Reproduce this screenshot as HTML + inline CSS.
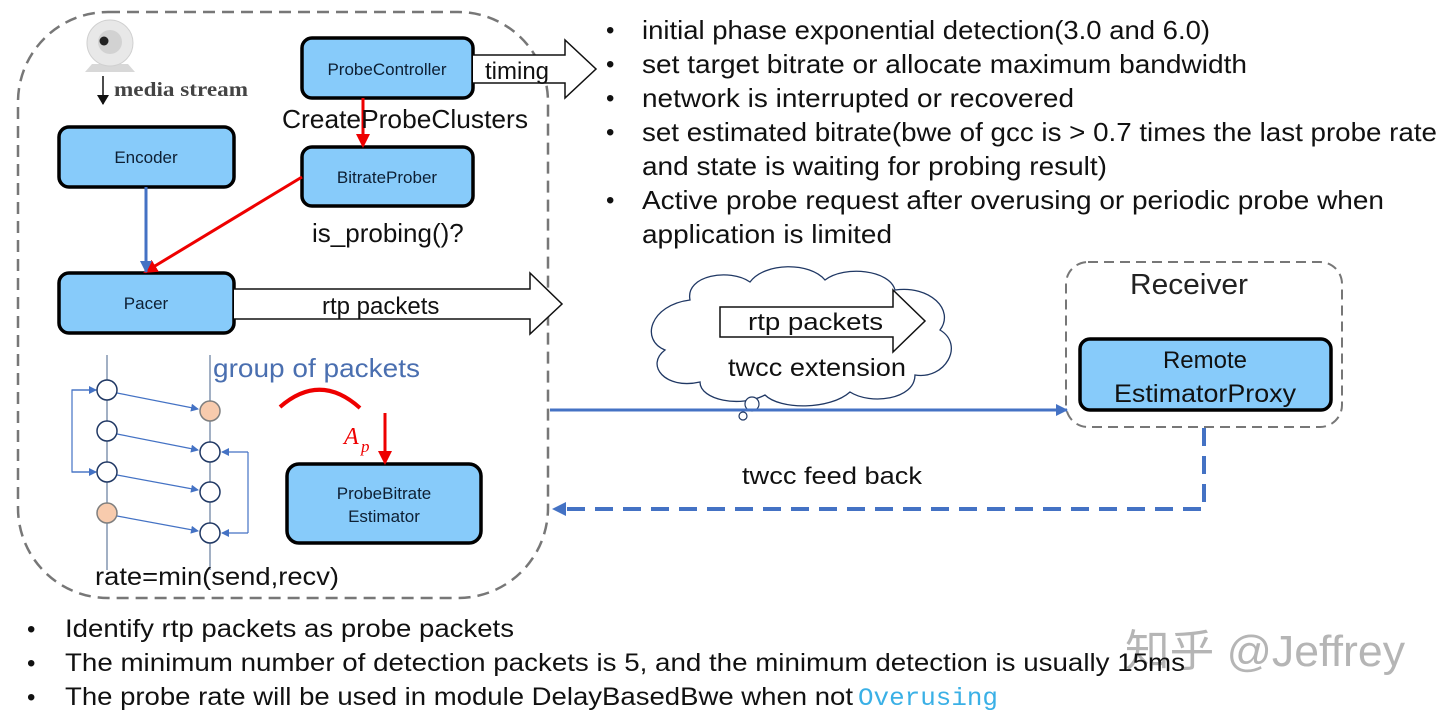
<!DOCTYPE html>
<html><head><meta charset="utf-8"><style>
html,body{margin:0;padding:0;background:#fff;}
svg{display:block;}
text{font-family:"Liberation Sans","Noto Sans CJK SC",sans-serif;}
</style></head><body>
<svg width="1440" height="712" viewBox="0 0 1440 712" xmlns="http://www.w3.org/2000/svg">
<defs>
<marker id="ab" markerWidth="8" markerHeight="8" refX="7" refY="4" orient="auto" markerUnits="userSpaceOnUse"><path d="M0,0 L8,4 L0,8z" fill="#4472c4"/></marker>
<marker id="abs" markerWidth="12" markerHeight="12" refX="11" refY="6" orient="auto" markerUnits="userSpaceOnUse"><path d="M0,0 L12,6 L0,12z" fill="#4472c4"/></marker>
<marker id="ar" markerWidth="14" markerHeight="14" refX="12" refY="7" orient="auto" markerUnits="userSpaceOnUse"><path d="M0,0 L14,7 L0,14z" fill="#e00"/></marker>
<marker id="ak" markerWidth="10" markerHeight="12" refX="9" refY="6" orient="auto" markerUnits="userSpaceOnUse"><path d="M0,0 L10,6 L0,12z" fill="#111"/></marker>
</defs>
<rect x="18" y="12" width="530" height="586" rx="90" fill="none" stroke="#777" stroke-width="2.5" stroke-dasharray="12,7"/>
<!-- camera -->
<path d="M85,72 L92,64 L128,64 L135,72 Z" fill="#d8d8d8"/>
<circle cx="110" cy="43" r="23" fill="#e8e8e8" stroke="#d0d0d0"/>
<circle cx="110" cy="42" r="12" fill="#d2d2d2"/>
<circle cx="104" cy="41" r="4.5" fill="#222"/>
<line x1="103" y1="76" x2="103" y2="104" stroke="#111" stroke-width="1.5" marker-end="url(#ak)"/>
<text x="114" y="96" font-size="20" font-weight="bold" fill="#444" style="font-family:'Liberation Serif',serif" textLength="134" lengthAdjust="spacingAndGlyphs">media stream</text>
<g stroke="#000" stroke-width="3.5" fill="#87cbfa">
<rect x="302" y="38" width="171" height="60" rx="10"/>
<rect x="59" y="127" width="175" height="60" rx="10"/>
<rect x="302" y="147" width="171" height="59" rx="10"/>
<rect x="59" y="273" width="175" height="60" rx="10"/>
<rect x="287" y="464" width="194" height="79" rx="12"/>
<rect x="1080" y="339" width="251" height="71" rx="10"/>
</g>
<g font-size="17" fill="#0d1f33" text-anchor="middle">
<text x="387" y="75">ProbeController</text>
<text x="146" y="163">Encoder</text>
<text x="387" y="183">BitrateProber</text>
<text x="146" y="309">Pacer</text>
<text x="384" y="499">ProbeBitrate</text>
<text x="384" y="522">Estimator</text>
</g>
<text x="1205" y="368" font-size="24" text-anchor="middle" fill="#111">Remote</text>
<text x="1114" y="402" font-size="25" fill="#111" textLength="182" lengthAdjust="spacingAndGlyphs">EstimatorProxy</text>
<path d="M473,55 L565,55 L565,40 L596,69 L565,98 L565,83 L473,83" fill="#fff" stroke="#111" stroke-width="1.5"/>
<text x="485" y="79" font-size="24" fill="#111">timing</text>
<line x1="363" y1="98" x2="363" y2="146" stroke="#e00" stroke-width="3" marker-end="url(#ar)"/>
<text x="282" y="128" font-size="26" fill="#111" textLength="246" lengthAdjust="spacingAndGlyphs">CreateProbeClusters</text>
<line x1="302" y1="177" x2="145" y2="272" stroke="#e00" stroke-width="3" marker-end="url(#ar)"/>
<line x1="146" y1="187" x2="146" y2="272" stroke="#4472c4" stroke-width="3" marker-end="url(#abs)"/>
<text x="312" y="242" font-size="26" fill="#111">is_probing()?</text>
<path d="M234,289 L530,289 L530,273 L562,304 L530,334 L530,319 L234,319" fill="#fff" stroke="#111" stroke-width="1.5"/>
<text x="322" y="314" font-size="24" fill="#111">rtp packets</text>
<g stroke="#8496b0" stroke-width="1.5">
<line x1="107" y1="355" x2="107" y2="570"/><line x1="210" y1="355" x2="210" y2="570"/>
</g>
<g stroke="#4472c4" stroke-width="1.2" fill="none">
<line x1="117" y1="393" x2="198" y2="409" marker-end="url(#ab)"/>
<line x1="117" y1="434" x2="198" y2="450" marker-end="url(#ab)"/>
<line x1="117" y1="475" x2="198" y2="490" marker-end="url(#ab)"/>
<line x1="117" y1="516" x2="198" y2="531" marker-end="url(#ab)"/>
<polyline points="97,390 72,390 72,472 96,472"/>
<path d="M72,390 L96,390" marker-end="url(#ab)"/>
<path d="M72,472 L96,472" marker-end="url(#ab)"/>
<polyline points="248,452 248,533"/>
<path d="M248,452 L222,452" marker-end="url(#ab)"/>
<path d="M248,533 L222,533" marker-end="url(#ab)"/>
</g>
<g stroke="#203864" stroke-width="1.5" fill="#fff">
<circle cx="107" cy="390" r="10"/><circle cx="107" cy="431" r="10"/><circle cx="107" cy="472" r="10"/>
<circle cx="107" cy="513" r="10" fill="#f8cbad" stroke="#7f7f7f"/>
<circle cx="210" cy="411" r="10" fill="#f8cbad" stroke="#7f7f7f"/>
<circle cx="210" cy="452" r="10"/><circle cx="210" cy="492" r="10"/><circle cx="210" cy="533" r="10"/>
</g>
<text x="213" y="377" font-size="26" fill="#4a6fb0" textLength="207" lengthAdjust="spacingAndGlyphs">group of packets</text>
<path d="M280,407 Q320,372 360,408" fill="none" stroke="#e00" stroke-width="4"/>
<line x1="385" y1="413" x2="385" y2="463" stroke="#e00" stroke-width="3" marker-end="url(#ar)"/>
<text x="344" y="444" font-size="24" font-style="italic" fill="#e00" style="font-family:'Liberation Serif',serif">A</text>
<text x="361" y="452" font-size="17" font-style="italic" fill="#e00" style="font-family:'Liberation Serif',serif">p</text>
<text x="95" y="585" font-size="25" fill="#111" textLength="244" lengthAdjust="spacingAndGlyphs">rate=min(send,recv)</text>
<path d="M690,300 C685,275 730,268 750,282 C765,262 810,262 825,280 C845,265 890,270 895,290 C930,285 955,310 940,330 C965,345 945,380 915,375 C915,400 870,405 850,392 C830,410 780,410 765,395 C740,408 700,400 700,382 C665,390 645,365 665,350 C640,340 650,305 690,300 Z" fill="#fff" stroke="#203864" stroke-width="1.3"/>
<circle cx="752" cy="404" r="7" fill="#fff" stroke="#203864" stroke-width="1.2"/>
<circle cx="743" cy="416" r="4" fill="#fff" stroke="#203864" stroke-width="1.2"/>
<path d="M720,307 L893,307 L893,290 L925,321 L893,352 L893,337 L720,337 Z" fill="#fff" stroke="#111" stroke-width="1.5"/>
<text x="748" y="330" font-size="24" fill="#111" textLength="135" lengthAdjust="spacingAndGlyphs">rtp packets</text>
<text x="728" y="376" font-size="25" fill="#111" textLength="178" lengthAdjust="spacingAndGlyphs">twcc extension</text>
<line x1="550" y1="410" x2="1067" y2="410" stroke="#4472c4" stroke-width="3" marker-end="url(#abs)"/>
<rect x="1066" y="262" width="276" height="165" rx="22" fill="none" stroke="#777" stroke-width="2" stroke-dasharray="10,6"/>
<text x="1130" y="294" font-size="29" fill="#222" textLength="118" lengthAdjust="spacingAndGlyphs">Receiver</text>
<polyline points="1204,428 1204,509 566,509" fill="none" stroke="#4472c4" stroke-width="4" stroke-dasharray="18,10"/>
<path d="M566,502 L552,509 L566,516z" fill="#4472c4"/>
<text x="742" y="484" font-size="24" fill="#111" textLength="180" lengthAdjust="spacingAndGlyphs">twcc feed back</text>
<g font-size="26" fill="#111">
<text x="606" y="38" font-size="24">•</text><text x="642" y="39" textLength="568" lengthAdjust="spacingAndGlyphs">initial phase exponential detection(3.0 and 6.0)</text>
<text x="606" y="72" font-size="24">•</text><text x="642" y="73" textLength="605" lengthAdjust="spacingAndGlyphs">set target bitrate or allocate maximum bandwidth</text>
<text x="606" y="106" font-size="24">•</text><text x="642" y="107" textLength="432" lengthAdjust="spacingAndGlyphs">network is interrupted or recovered</text>
<text x="606" y="140" font-size="24">•</text><text x="642" y="141" textLength="795" lengthAdjust="spacingAndGlyphs">set estimated bitrate(bwe of gcc is &gt; 0.7 times the last probe rate</text>
<text x="642" y="175" textLength="465" lengthAdjust="spacingAndGlyphs">and state is waiting for probing result)</text>
<text x="606" y="208" font-size="24">•</text><text x="642" y="209" textLength="742" lengthAdjust="spacingAndGlyphs">Active probe request after overusing or periodic probe when</text>
<text x="642" y="243" textLength="250" lengthAdjust="spacingAndGlyphs">application is limited</text>
</g>
<text x="1125" y="666" font-size="44" fill="#b5b5b5" textLength="280" lengthAdjust="spacingAndGlyphs">知乎 @Jeffrey</text>
<g font-size="25" fill="#111">
<text x="27" y="637" font-size="24">•</text><text x="65" y="637" textLength="449" lengthAdjust="spacingAndGlyphs">Identify rtp packets as probe packets</text>
<text x="27" y="671" font-size="24">•</text><text x="65" y="671" textLength="1120" lengthAdjust="spacingAndGlyphs">The minimum number of detection packets is 5, and the minimum detection is usually 15ms</text>
<text x="27" y="705" font-size="24">•</text><text x="65" y="705" textLength="788" lengthAdjust="spacingAndGlyphs">The probe rate will be used in module DelayBasedBwe when not</text>
<text x="858" y="705" font-size="25" fill="#3ab0e6" style="font-family:'Liberation Mono',monospace" textLength="140" lengthAdjust="spacingAndGlyphs">Overusing</text>
</g>
</svg>
</body></html>
